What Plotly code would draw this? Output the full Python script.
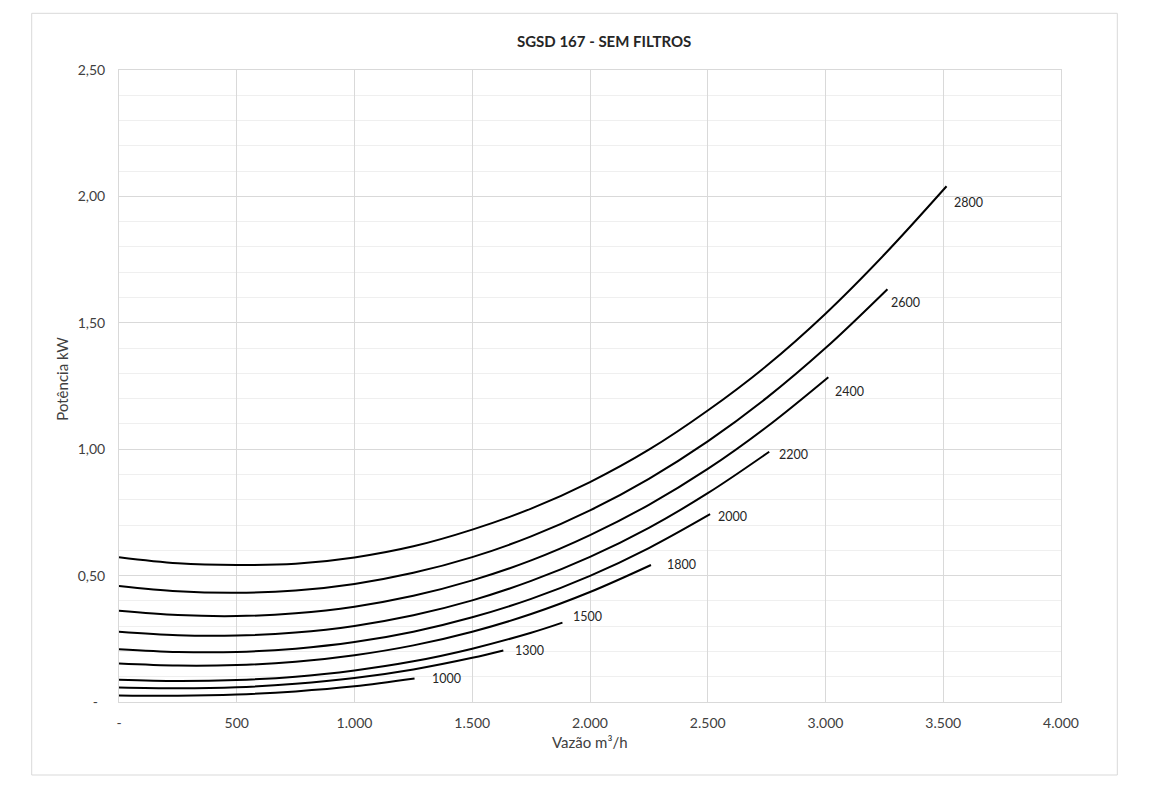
import plotly.graph_objects as go

# ---------------- data ----------------
title_text = "SGSD 167 - SEM FILTROS"
x_title = "Vazão m³/h"
y_title = "Potência kW"

x_tickvals = [0, 500, 1000, 1500, 2000, 2500, 3000, 3500, 4000]
x_ticktext = ["-", "500", "1.000", "1.500", "2.000", "2.500", "3.000", "3.500", "4.000"]
y_tickvals = [0, 0.5, 1.0, 1.5, 2.0, 2.5]
y_ticktext = ["-\u00a0\u00a0", "0,50", "1,00", "1,50", "2,00", "2,50"]

rpm_labels = ["1000", "1300", "1500", "1800", "2000", "2200", "2400", "2600", "2800"]

q_1000 = [0, 250, 500, 750, 1000, 1255]
p_1000 = [0.026, 0.025, 0.030, 0.042, 0.062, 0.093]

q_1300 = [0, 250, 500, 750, 1000, 1250, 1500, 1632]
p_1300 = [0.057, 0.054, 0.058, 0.072, 0.095, 0.129, 0.175, 0.204]

q_1500 = [0, 250, 500, 750, 1000, 1250, 1500, 1750, 1883]
p_1500 = [0.088, 0.083, 0.087, 0.100, 0.125, 0.161, 0.211, 0.274, 0.314]

q_1800 = [0, 250, 500, 750, 1000, 1250, 1500, 1750, 2000, 2259]
p_1800 = [0.152, 0.144, 0.146, 0.159, 0.185, 0.224, 0.278, 0.348, 0.435, 0.542]

q_2000 = [0, 250, 500, 750, 1000, 1250, 1500, 1750, 2000, 2250, 2510]
p_2000 = [0.209, 0.198, 0.198, 0.211, 0.237, 0.278, 0.335, 0.408, 0.499, 0.609, 0.743]

q_2200 = [0, 250, 500, 750, 1000, 1250, 1500, 1750, 2000, 2250, 2500, 2761]
p_2200 = [0.278, 0.264, 0.263, 0.275, 0.301, 0.343, 0.402, 0.479, 0.574, 0.689, 0.826, 0.990]

q_2400 = [0, 250, 500, 750, 1000, 1250, 1500, 1750, 2000, 2250, 2500, 2750, 3012]
p_2400 = [0.361, 0.344, 0.340, 0.351, 0.377, 0.420, 0.481, 0.560, 0.660, 0.780, 0.922, 1.088, 1.285]

q_2600 = [0, 250, 500, 750, 1000, 1250, 1500, 1750, 2000, 2250, 2500, 2750, 3000, 3263]
p_2600 = [0.459, 0.438, 0.432, 0.441, 0.467, 0.511, 0.573, 0.655, 0.758, 0.883, 1.031, 1.203, 1.400, 1.633]

q_2800 = [0, 250, 500, 750, 1000, 1250, 1500, 1750, 2000, 2250, 2500, 2750, 3000, 3250, 3514]
p_2800 = [0.573, 0.549, 0.542, 0.547, 0.572, 0.616, 0.682, 0.765, 0.870, 0.998, 1.153, 1.330, 1.536, 1.770, 2.040]

series_q = [q_1000, q_1300, q_1500, q_1800, q_2000, q_2200, q_2400, q_2600, q_2800]
series_p = [p_1000, p_1300, p_1500, p_1800, p_2000, p_2200, p_2400, p_2600, p_2800]

# ---------------- styling ----------------
FONT = "Lato"
TEXT = "#404040"
GRID = "#D9D9D9"
MINOR = "#EFEFEF"
OFF = 8  # default page body margin of the written HTML

# label pixel offsets (style only): (xshift, yshift)
label_shift = {
    "1000": (15, 0), "1300": (10, 0), "1500": (9, 6), "1800": (14, 0),
    "2000": (6, -2), "2200": (8, -3), "2400": (5, -14), "2600": (2, -13),
    "2800": (5, -16),
}

fig = go.Figure()
annotations = []
for name, q, p in zip(rpm_labels, series_q, series_p):
    fig.add_trace(go.Scatter(
        x=q, y=p, mode="lines", name=name,
        line=dict(color="black", width=2, shape="spline", smoothing=1.0),
        showlegend=False, hoverinfo="x+y+name",
    ))
    dx, dy = label_shift[name]
    annotations.append(dict(
        x=q[-1], y=p[-1], xref="x", yref="y", text=name, showarrow=False,
        xanchor="left", yanchor="middle", xshift=dx, yshift=dy,
        font=dict(family=FONT, size=12.5, color="#262626"),
    ))

W, H = 1150, 789
pw, ph = 942, 632
L, T = 119 - OFF, 70 - OFF
R, B = W - L - pw, H - T - ph
bottom = T + ph  # plot bottom in figure px

def fy(py):  # reference page y -> paper y
    return (bottom - (py - OFF)) / ph

def fx(px):  # reference page x -> paper x
    return ((px - OFF) - L) / pw

annotations.append(dict(
    x=0.5, y=fy(742.3), xref="paper", yref="paper", text=x_title,
    showarrow=False, xanchor="center", yanchor="middle",
    font=dict(family=FONT, size=15, color=TEXT),
))
annotations.append(dict(
    x=fx(61.7), y=fy(379), xref="paper", yref="paper", text=y_title,
    showarrow=False, xanchor="center", yanchor="middle", textangle=-90,
    font=dict(family=FONT, size=15, color=TEXT),
))
annotations.append(dict(
    x=fx(604), y=fy(40.7), xref="paper", yref="paper", text=f"<b>{title_text}</b>",
    showarrow=False, xanchor="center", yanchor="middle",
    font=dict(family=FONT, size=15, color="#262626"),
))

fig.update_layout(
    width=W, height=H,
    margin=dict(l=L, r=R, t=T, b=B, autoexpand=False),
    paper_bgcolor="white", plot_bgcolor="white",
    annotations=annotations,
    shapes=[dict(type="rect", xref="paper", yref="paper",
                 x0=fx(31.7), x1=fx(1117.3), y0=fy(775), y1=fy(13.3),
                 line=dict(color="#D9D9D9", width=1), fillcolor="rgba(0,0,0,0)",
                 layer="below")],
    font=dict(family=FONT, color=TEXT),
)

fig.update_xaxes(
    range=[0, 4000], tickvals=x_tickvals, ticktext=x_ticktext,
    showgrid=True, gridcolor=GRID, gridwidth=1, zeroline=False,
    showline=True, linecolor=GRID, linewidth=1, mirror=True,
    ticks="", ticklabelstandoff=8,
    tickfont=dict(family=FONT, size=14, color=TEXT),
)
fig.update_yaxes(
    range=[0, 2.5], tickvals=y_tickvals, ticktext=y_ticktext,
    showgrid=True, gridcolor=GRID, gridwidth=1, zeroline=False,
    showline=True, linecolor=GRID, linewidth=1, mirror=True,
    ticks="", ticklabelstandoff=10,
    minor=dict(dtick=0.1, tick0=0, showgrid=True, gridcolor=MINOR, gridwidth=1, ticks=""),
    tickfont=dict(family=FONT, size=14, color=TEXT),
)

fig.write_html("out.html")
